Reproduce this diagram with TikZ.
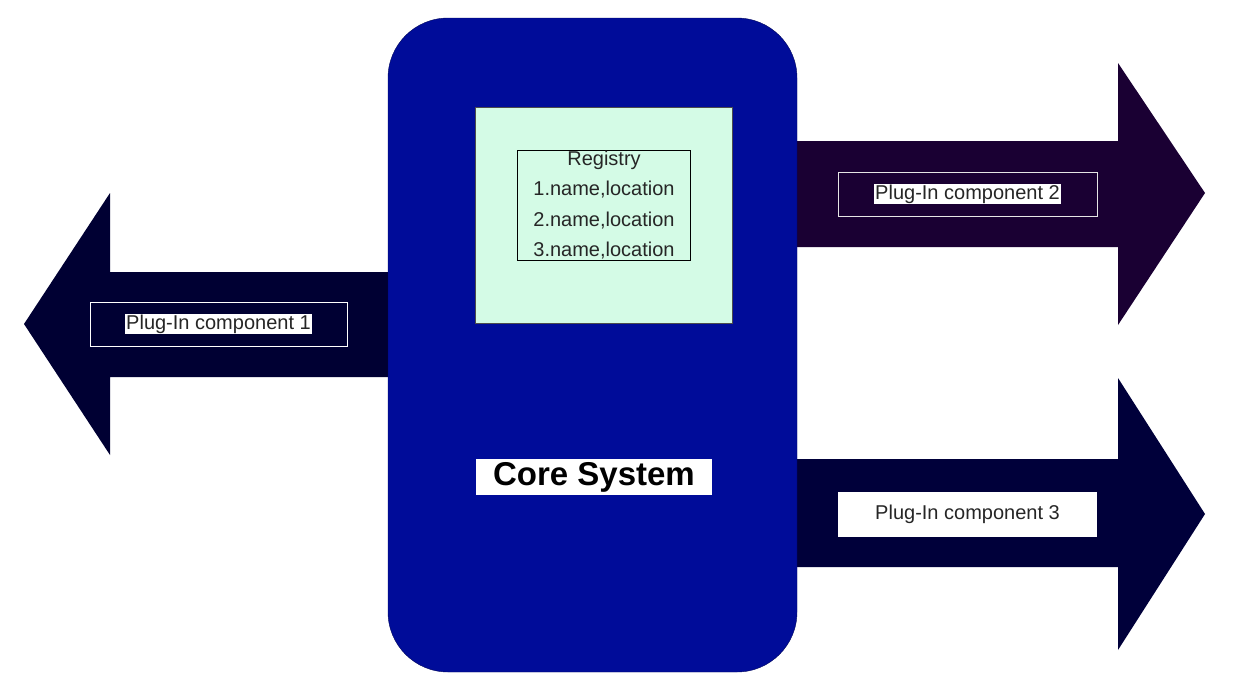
\documentclass[tikz,border=0pt]{standalone}
\usepackage{fontspec}
\setmainfont{Liberation Sans}
\definecolor{core}{RGB}{0,12,153}
\definecolor{reg}{RGB}{212,251,230}
\definecolor{aone}{RGB}{0,0,51}
\definecolor{atwo}{RGB}{26,0,51}
\definecolor{athree}{RGB}{0,0,58}
\tikzset{lbl/.style={fill=white,inner sep=1pt,font=\fontsize{20}{22}\selectfont,text=black!85}}
\begin{document}
\begin{tikzpicture}[x=1pt,y=-1pt]
\useasboundingbox (0,0) rectangle (1242,688);
% arrows
\fill[aone] (390,272) -- (110,272) -- (110,193) -- (24,324) -- (110,455) -- (110,377) -- (390,377) -- cycle;
\fill[atwo] (795,141) -- (1118,141) -- (1118,63) -- (1205,193) -- (1118,325) -- (1118,247) -- (795,247) -- cycle;
\fill[athree] (795,459) -- (1118,459) -- (1118,378) -- (1205,514) -- (1118,650) -- (1118,567) -- (795,567) -- cycle;
% core
\node[draw=core!60!black,fill=core,rounded corners=60pt,minimum width=409pt,minimum height=654pt,inner sep=0pt] (core) at (592.5,345) {};
\node[draw=black!70,line width=1pt,fill=reg,minimum width=257pt,minimum height=216pt,inner sep=0pt] (reg) at (603.5,215) {};
\node[draw=black,minimum width=173pt,minimum height=110pt,inner sep=0pt] (regbox) at (603.5,205) {};
\node[align=center,font=\fontsize{20}{30.5}\selectfont,text=black!85] (regtxt) at (604,205) {Registry\\1.name,location\\2.name,location\\3.name,location};
\node[fill=white,inner sep=1pt,font=\bfseries\fontsize{33}{36}\selectfont,minimum width=236pt,minimum height=36pt] (cs) at (594,477) {Core System};
% labels
\node[draw=white,line width=0.8pt,minimum width=257pt,minimum height=44pt,inner sep=0pt] (l1box) at (218.5,324) {};
\node[lbl] (l1) at (218.5,324) {Plug-In component 1};
\node[draw=white!80!gray,line width=0.8pt,minimum width=259pt,minimum height=44pt,inner sep=0pt] (l2box) at (967.5,194) {};
\node[lbl] (l2) at (967.5,194) {Plug-In component 2};
\node[fill=white,minimum width=259pt,minimum height=45pt,inner sep=0pt,font=\fontsize{20}{22}\selectfont,text=black!85] (l3) at (967.5,514.5) {Plug-In component 3};
\end{tikzpicture}
\end{document}
